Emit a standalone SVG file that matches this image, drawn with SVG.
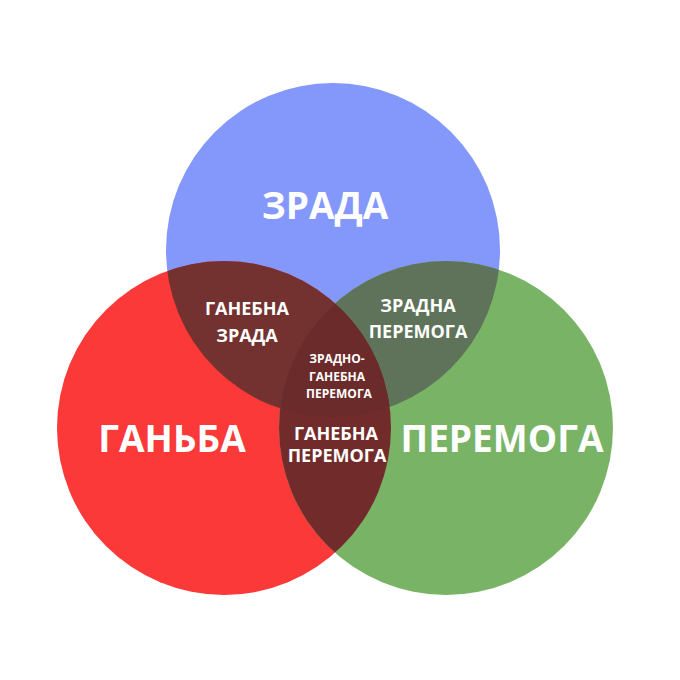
<svg xmlns="http://www.w3.org/2000/svg" width="680" height="680" viewBox="0 0 680 680">
  <defs>
    <clipPath id="cRed"><circle cx="224" cy="428" r="167"/></clipPath>
    <clipPath id="cBlue"><circle cx="333" cy="250" r="167"/></clipPath>
    <clipPath id="cGreen"><circle cx="446" cy="428" r="167"/></clipPath>
  </defs>
  <style>
    text { font-family: "Open Sans", "DejaVu Sans", sans-serif; font-weight: 700; fill: #ffffff; text-anchor: middle; }
    .big { font-size: 37px; }
    .mid { font-size: 18px; }
    .small { font-size: 12px; }
  </style>
  <g id="circles">
    <g id="zrada-circle"><circle cx="333" cy="250" r="167" fill="#8497FB"/></g>
    <g id="hanba-circle"><circle cx="224" cy="428" r="167" fill="#FA3938"/></g>
    <g id="peremoha-circle"><circle cx="446" cy="428" r="167" fill="#79B366"/></g>
    <g id="red-blue" clip-path="url(#cRed)"><circle cx="333" cy="250" r="167" fill="#733130"/></g>
    <g id="blue-green" clip-path="url(#cGreen)"><circle cx="333" cy="250" r="167" fill="#5E7359"/></g>
    <g id="red-green" clip-path="url(#cRed)"><circle cx="446" cy="428" r="167" fill="#722B2B"/></g>
    <g id="triple" clip-path="url(#cRed)"><g clip-path="url(#cGreen)"><circle cx="333" cy="250" r="167" fill="#6B2B2B"/></g></g>
  </g>
  <g id="labels">
    <g id="zrada"><text class="big" x="325" y="219">ЗРАДА</text></g>
    <g id="hanba"><text class="big" x="172" y="452">ГАНЬБА</text></g>
    <g id="peremoha"><text class="big" x="502" y="452">ПЕРЕМОГА</text></g>
    <g id="hanebna-zrada"><text class="mid" x="247" y="315">ГАНЕБНА</text><text class="mid" x="247" y="342">ЗРАДА</text></g>
    <g id="zradna-peremoha"><text class="mid" x="418" y="312">ЗРАДНА</text><text class="mid" x="418" y="338">ПЕРЕМОГА</text></g>
    <g id="triple-label"><text class="small" x="337" y="363">ЗРАДНО-</text><text class="small" x="337" y="381">ГАНЕБНА</text><text class="small" x="339" y="398">ПЕРЕМОГА</text></g>
    <g id="hanebna-peremoha"><text class="mid" x="336" y="440">ГАНЕБНА</text><text class="mid" x="337" y="462">ПЕРЕМОГА</text></g>
  </g>
</svg>
